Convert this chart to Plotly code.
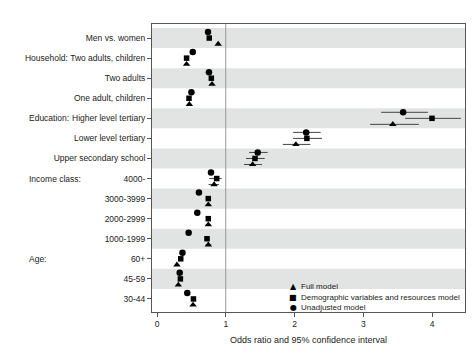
import plotly.graph_objects as go

categories = ["Men vs. women", "Household: Two adults, children", "Two adults", "One adult, children",
              "Higher level tertiary", "Lower level tertiary", "Upper secondary school",
              "4000-", "3000-3999", "2000-2999", "1000-1999", "60+", "45-59", "30-44"]
group_labels = {"Education:": 4, "Income class:": 7, "Age:": 11}

full_or = [0.89, 0.43, 0.80, 0.47, 3.43, 2.02, 1.39, 0.83, 0.746, 0.746, 0.746, 0.29, 0.31, 0.524]
full_lo = [0.87, 0.41, 0.77, 0.44, 3.10, 1.83, 1.265, 0.75, 0.71, 0.71, 0.71, 0.27, 0.29, 0.50]
full_hi = [0.91, 0.45, 0.83, 0.50, 3.81, 2.23, 1.527, 0.90, 0.78, 0.78, 0.79, 0.31, 0.33, 0.55]

demo_or = [0.76, 0.43, 0.79, 0.465, 4.00, 2.18, 1.425, 0.868, 0.746, 0.746, 0.727, 0.345, 0.34, 0.53]
demo_lo = [0.74, 0.41, 0.76, 0.44, 3.61, 1.98, 1.295, 0.76, 0.71, 0.71, 0.69, 0.32, 0.32, 0.51]
demo_hi = [0.78, 0.45, 0.82, 0.49, 4.42, 2.40, 1.567, 0.94, 0.78, 0.78, 0.77, 0.37, 0.36, 0.55]

unadj_or = [0.742, 0.52, 0.756, 0.50, 3.58, 2.17, 1.465, 0.785, 0.61, 0.586, 0.46, 0.37, 0.33, 0.44]
unadj_lo = [0.73, 0.51, 0.74, 0.47, 3.26, 1.98, 1.34, 0.75, 0.59, 0.57, 0.45, 0.36, 0.32, 0.43]
unadj_hi = [0.76, 0.53, 0.77, 0.53, 3.94, 2.38, 1.61, 0.82, 0.63, 0.60, 0.47, 0.38, 0.34, 0.45]

x_ticks = [0, 1, 2, 3, 4]
x_title = "Odds ratio and 95% confidence interval"

rows = list(range(len(categories)))
FONT = "Liberation Sans, Arial, sans-serif"

fig = go.Figure()

series = [
    ("Full model", full_or, full_lo, full_hi, "triangle-up", 0.3, 6.5, "▲"),
    ("Demographic variables and resources model", demo_or, demo_lo, demo_hi, "square", 0.0, 5.5, "■"),
    ("Unadjusted model", unadj_or, unadj_lo, unadj_hi, "circle", -0.3, 6.5, "●"),
]
for name, v, lo, hi, sym, off, sz, _ in series:
    fig.add_trace(go.Scatter(
        x=v, y=[r + off for r in rows], mode="markers", name=name,
        marker=dict(symbol=sym, size=sz, color="black"),
        error_x=dict(type="data", symmetric=False,
                     array=[h - a for h, a in zip(hi, v)],
                     arrayminus=[a - l for a, l in zip(v, lo)],
                     width=0, thickness=1, color="#444"),
    ))

# alternating bands
for r in rows:
    if r % 2 == 0:
        fig.add_shape(type="rect", xref="paper", yref="y", x0=0, x1=1, y0=r - 0.5, y1=r + 0.5,
                      fillcolor="#e2e4e3", line_width=0, layer="below")
fig.add_shape(type="line", xref="x", yref="paper", x0=1, x1=1, y0=0, y1=1,
              line=dict(color="#999", width=1), layer="below")

for txt, r in group_labels.items():
    fig.add_annotation(text=txt, xref="paper", yref="y", x=-0.40, y=r, xanchor="left",
                       showarrow=False, font=dict(size=8.5, color="#222", family=FONT))

# legend (compact, as text)
leg_y = [0.090, 0.052, 0.014]
for (name, *_rest), yy in zip(series, leg_y):
    glyph = _rest[-1]
    fig.add_annotation(text=glyph, xref="paper", yref="paper", x=0.452, y=yy, xanchor="center",
                       yanchor="middle", showarrow=False,
                       font=dict(size=8, color="black", family="DejaVu Sans"))
    fig.add_annotation(text=name, xref="paper", yref="paper", x=0.471, y=yy, xanchor="left",
                       yanchor="middle", showarrow=False,
                       font=dict(size=8, color="#222", family=FONT))

# page body has an 8px margin, so the figure is sized to sit at the reference position
fig.update_layout(
    width=466, height=347,
    margin=dict(l=144, r=9, t=16, b=43),
    paper_bgcolor="white", plot_bgcolor="white",
    font=dict(family=FONT, size=8.5, color="#222"),
    showlegend=False,
    xaxis=dict(range=[-0.073, 4.48], tickvals=x_ticks, ticks="outside", ticklen=4,
               tickcolor="#555", showgrid=False, zeroline=False, showline=True,
               linecolor="#555", mirror=True,
               title=dict(text=x_title, font=dict(size=9), standoff=8),
               tickfont=dict(size=8.5)),
    yaxis=dict(range=[13.65, -0.7], tickvals=rows, ticktext=categories, ticks="outside",
               ticklen=4, tickcolor="#555", showgrid=False, zeroline=False, showline=True,
               linecolor="#555", mirror=True, tickfont=dict(size=8.5)),
)

fig.write_html("out.html")
